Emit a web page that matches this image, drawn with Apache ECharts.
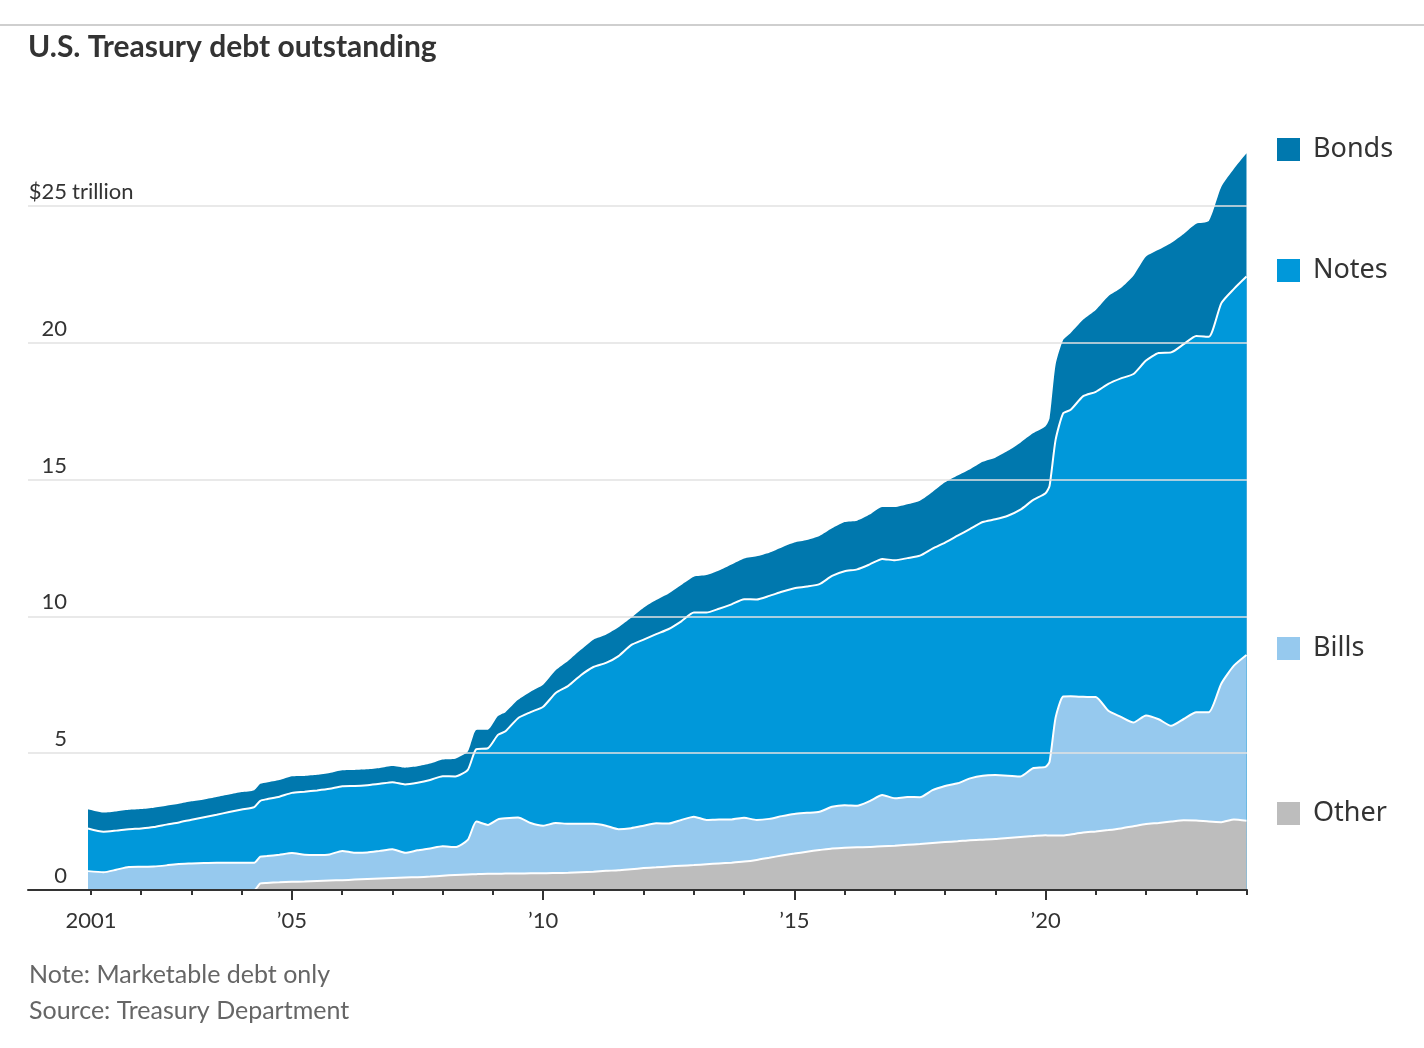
<!DOCTYPE html>
<html>
<head>
<meta charset="utf-8">
<title>U.S. Treasury debt outstanding</title>
<script src="https://cdn.jsdelivr.net/npm/echarts@6/dist/echarts.min.js"></script>
<style>
  html, body { margin: 0; padding: 0; background: #fff; }
  #chart { width: 1424px; height: 1048px; }
</style>
</head>
<body>
<div id="chart"></div>
<script>
// decimal years, about quarterly, with extra points where the curves jump
var dates = [
  2000.94, 2001.25, 2001.5, 2001.75,
  2002, 2002.25, 2002.5, 2002.75,
  2003, 2003.25, 2003.5, 2003.75,
  2004, 2004.25, 2004.37, 2004.5, 2004.75,
  2005, 2005.25, 2005.5, 2005.75,
  2006, 2006.25, 2006.5, 2006.75,
  2007, 2007.25, 2007.5, 2007.75,
  2008, 2008.25, 2008.5, 2008.67, 2008.9,
  2009.1, 2009.25, 2009.5, 2009.75,
  2010, 2010.25, 2010.5, 2010.75,
  2011, 2011.25, 2011.5, 2011.75,
  2012, 2012.25, 2012.5, 2012.75,
  2013, 2013.25, 2013.5, 2013.75,
  2014, 2014.25, 2014.5, 2014.75,
  2015, 2015.25, 2015.5, 2015.75,
  2016, 2016.25, 2016.5, 2016.75,
  2017, 2017.25, 2017.5, 2017.75,
  2018, 2018.25, 2018.5, 2018.75,
  2019, 2019.25, 2019.5, 2019.75,
  2020, 2020.08, 2020.2, 2020.35, 2020.5, 2020.75,
  2021, 2021.25, 2021.5, 2021.75,
  2022, 2022.25, 2022.5, 2022.75,
  2023, 2023.25, 2023.5, 2023.75,
  2024
];

// $ trillion, amount of each kind of debt
var other = [
  0, 0, 0, 0,
  0, 0, 0, 0,
  0, 0, 0, 0,
  0, 0, 0.24, 0.26, 0.28,
  0.30, 0.31, 0.33, 0.35,
  0.36, 0.38, 0.40, 0.42,
  0.44, 0.46, 0.47, 0.49,
  0.52, 0.55, 0.57, 0.58, 0.59,
  0.59, 0.60, 0.60, 0.61,
  0.61, 0.62, 0.63, 0.65,
  0.67, 0.70, 0.72, 0.76,
  0.80, 0.83, 0.86, 0.89,
  0.91, 0.94, 0.97, 1.00,
  1.04, 1.10, 1.18, 1.26,
  1.33, 1.40, 1.46, 1.52,
  1.54, 1.56, 1.57, 1.60,
  1.62, 1.65, 1.68, 1.72,
  1.75, 1.78, 1.82, 1.84,
  1.86, 1.90, 1.94, 1.97,
  2.00, 1.99, 1.99, 1.99, 2.03, 2.10,
  2.14, 2.19, 2.25, 2.33,
  2.41, 2.45, 2.50, 2.55,
  2.54, 2.50, 2.48, 2.58,
  2.53
];

var bills = [
  0.69, 0.65, 0.74, 0.84,
  0.85, 0.86, 0.90, 0.95,
  0.97, 0.99, 1.00, 1.00,
  1.00, 1.00, 0.98, 0.98, 1.01,
  1.05, 0.98, 0.95, 0.95,
  1.07, 0.98, 0.97, 1.01,
  1.05, 0.90, 0.98, 1.03,
  1.08, 1.02, 1.26, 1.92, 1.79,
  1.99, 2.02, 2.05, 1.84,
  1.74, 1.83, 1.79, 1.77,
  1.75, 1.65, 1.50, 1.50,
  1.55, 1.61, 1.57, 1.67,
  1.77, 1.62, 1.61, 1.58,
  1.60, 1.46, 1.42, 1.44,
  1.45, 1.42, 1.40, 1.52,
  1.56, 1.52, 1.68, 1.87,
  1.73, 1.75, 1.71, 1.93,
  2.05, 2.12, 2.26, 2.34,
  2.34, 2.28, 2.21, 2.48,
  2.50, 2.70, 4.31, 5.08, 5.05, 4.96,
  4.91, 4.36, 4.08, 3.79,
  3.97, 3.79, 3.50, 3.70,
  3.96, 4.00, 5.07, 5.62,
  6.06
];

var notes = [
  1.56, 1.48, 1.43, 1.38,
  1.40, 1.44, 1.49, 1.52,
  1.60, 1.67, 1.75, 1.85,
  1.94, 2.03, 2.04, 2.08, 2.12,
  2.20, 2.30, 2.36, 2.40,
  2.36, 2.44, 2.46, 2.45,
  2.45, 2.50, 2.47, 2.50,
  2.56, 2.58, 2.56, 2.65, 2.80,
  3.09, 3.18, 3.63, 4.05,
  4.35, 4.75, 5.04, 5.43,
  5.73, 5.95, 6.33, 6.69,
  6.80, 6.91, 7.11, 7.26,
  7.46, 7.58, 7.70, 7.86,
  7.99, 8.06, 8.15, 8.20,
  8.25, 8.27, 8.32, 8.44,
  8.55, 8.64, 8.65, 8.63,
  8.70, 8.73, 8.83, 8.83,
  8.90, 9.05, 9.12, 9.27,
  9.35, 9.50, 9.75, 9.80,
  10.00, 10.08, 10.15, 10.35, 10.47, 10.99,
  11.16, 11.95, 12.37, 12.74,
  12.97, 13.39, 13.65, 13.70,
  13.75, 13.72, 13.90, 13.77,
  13.83
];

var bonds = [
  0.70, 0.70, 0.70, 0.71,
  0.71, 0.71, 0.69, 0.68,
  0.67, 0.65, 0.65, 0.64,
  0.64, 0.62, 0.62, 0.61, 0.61,
  0.61, 0.58, 0.57, 0.58,
  0.59, 0.59, 0.58, 0.58,
  0.59, 0.61, 0.60, 0.60,
  0.61, 0.65, 0.67, 0.70, 0.68,
  0.69, 0.70, 0.67, 0.75,
  0.80, 0.83, 0.92, 0.93,
  1.00, 1.03, 1.05, 1.00,
  1.17, 1.25, 1.30, 1.33,
  1.31, 1.37, 1.40, 1.46,
  1.49, 1.58, 1.58, 1.62,
  1.67, 1.70, 1.76, 1.74,
  1.80, 1.78, 1.82, 1.90,
  1.95, 1.97, 2.01, 2.07,
  2.20, 2.20, 2.18, 2.20,
  2.25, 2.37, 2.45, 2.44,
  2.45, 2.47, 2.75, 2.68, 2.81, 2.80,
  2.99, 3.20, 3.30, 3.59,
  3.80, 3.77, 4.00, 4.03,
  4.10, 4.23, 4.25, 4.39,
  4.51
];

var yTicks = [0, 5, 10, 15, 20, 25];
var yearTicks = [2001, 2002, 2003, 2004, 2005, 2006, 2007, 2008, 2009, 2010, 2011, 2012,
                 2013, 2014, 2015, 2016, 2017, 2018, 2019, 2020, 2021, 2022, 2023, 2024];
var labelYears = [2001, 2005, 2010, 2015, 2020];
var majorYears = [2005, 2010, 2015, 2020];

var colors = {
  Other: '#bdbdbd',
  Bills: '#96c9ee',
  Notes: '#0098da',
  Bonds: '#0078ae'
};

var font = 'Lato, "Noto Sans", sans-serif';
var xMin = 1999.746, xMax = 2024.01;

var chart = echarts.init(document.getElementById('chart'));

// stack the layers bottom-up: other, bills, notes, bonds
var order = [['Other', other], ['Bills', bills], ['Notes', notes], ['Bonds', bonds]];
var running = dates.map(function () { return 0; });
var series = [];
order.forEach(function (item, k) {
  var name = item[0], values = item[1];
  running = running.map(function (s, i) { return s + values[i]; });
  var tops = running.slice();
  series.push({
    name: name,
    type: 'line',
    z: 10 - k,             // lower layers sit above, so their white edge stays whole
    data: dates.map(function (d, i) { return [d, +tops[i].toFixed(3)]; }),
    smooth: 0.2,
    symbol: 'none',
    showSymbol: false,
    silent: true,
    lineStyle: { color: '#fff', width: name === 'Bonds' ? 0 : 2 },
    itemStyle: { color: colors[name] },
    areaStyle: { color: colors[name], opacity: 1, origin: 'start' },
    emphasis: { disabled: true }
  });
});

function legendItem(name, top) {
  return {
    data: [name],
    left: 1277,
    top: top,
    padding: 0,
    icon: 'rect',
    itemWidth: 23,
    itemHeight: 23,
    selectedMode: false,
    itemStyle: { color: colors[name], borderWidth: 0 },
    textStyle: { fontFamily: '"Noto Sans", sans-serif', fontSize: 27, color: '#333', padding: [8, 0, 0, 8] }
  };
}

var option = {
  animation: false,
  backgroundColor: '#fff',
  title: {
    text: 'U.S. Treasury debt outstanding',
    left: 28,
    top: 32,
    padding: 0,
    textStyle: { fontFamily: font, fontWeight: 'bold', fontSize: 30, color: '#333' }
  },
  legend: [
    legendItem('Bonds', 136),
    legendItem('Notes', 257),
    legendItem('Bills', 635),
    legendItem('Other', 800)
  ],
  grid: { left: 28, right: 177, top: 137.6, bottom: 158 },
  xAxis: [{
    type: 'value',
    min: xMin,
    max: xMax,
    z: 21,
    splitLine: { show: false },
    axisLine: { lineStyle: { color: '#333', width: 2 } },
    axisTick: { customValues: yearTicks, length: 5, lineStyle: { color: '#333', width: 2 } },
    axisLabel: {
      customValues: labelYears,
      margin: 20,
      fontFamily: font,
      fontSize: 22,
      color: '#333',
      formatter: function (v) {
        return v === 2001 ? '2001' : '\u2019' + String(v).slice(2);
      }
    }
  }, {
    type: 'value',
    position: 'bottom',
    min: xMin,
    max: xMax,
    z: 21,
    splitLine: { show: false },
    axisLine: { show: false },
    axisTick: { customValues: majorYears, length: 10, lineStyle: { color: '#333', width: 2 } },
    axisLabel: { show: false }
  }],
  yAxis: [{
    type: 'value',
    min: 0,
    max: 27.5,
    z: 20,
    axisLine: { show: false },
    axisTick: { show: false, customValues: yTicks },
    splitLine: { show: true, lineStyle: { color: '#e2e2e2', width: 1.5 } },
    axisLabel: {
      customValues: yTicks,
      inside: true,
      margin: 39,
      align: 'right',
      verticalAlign: 'bottom',
      padding: [0, 0, 3, 0],
      fontFamily: font,
      fontSize: 22,
      color: '#333',
      formatter: function (v) { return v === 25 ? '$25' : String(v); }
    }
  }, {
    type: 'value',
    position: 'left',
    min: 0,
    max: 27.5,
    z: 20,
    axisLine: { show: false },
    axisTick: { show: false, customValues: [25] },
    splitLine: { show: false },
    axisLabel: {
      customValues: [25],
      inside: true,
      margin: 44,
      align: 'left',
      verticalAlign: 'bottom',
      padding: [0, 0, 3, 0],
      fontFamily: font,
      fontSize: 22,
      color: '#333',
      formatter: function () { return 'trillion'; }
    }
  }],
  graphic: [
    { type: 'line', shape: { x1: 0, y1: 25, x2: 1424, y2: 25 }, style: { stroke: '#cfcfcf', lineWidth: 2 } },
    { type: 'text', x: 29, y: 975, style: { text: 'Note: Marketable debt only', fill: '#666', fontFamily: font, fontSize: 25, verticalAlign: 'middle' } },
    { type: 'text', x: 29, y: 1011, style: { text: 'Source: Treasury Department', fill: '#666', fontFamily: font, fontSize: 25, verticalAlign: 'middle' } }
  ],
  series: series
};

chart.setOption(option);
</script>
</body>
</html>
